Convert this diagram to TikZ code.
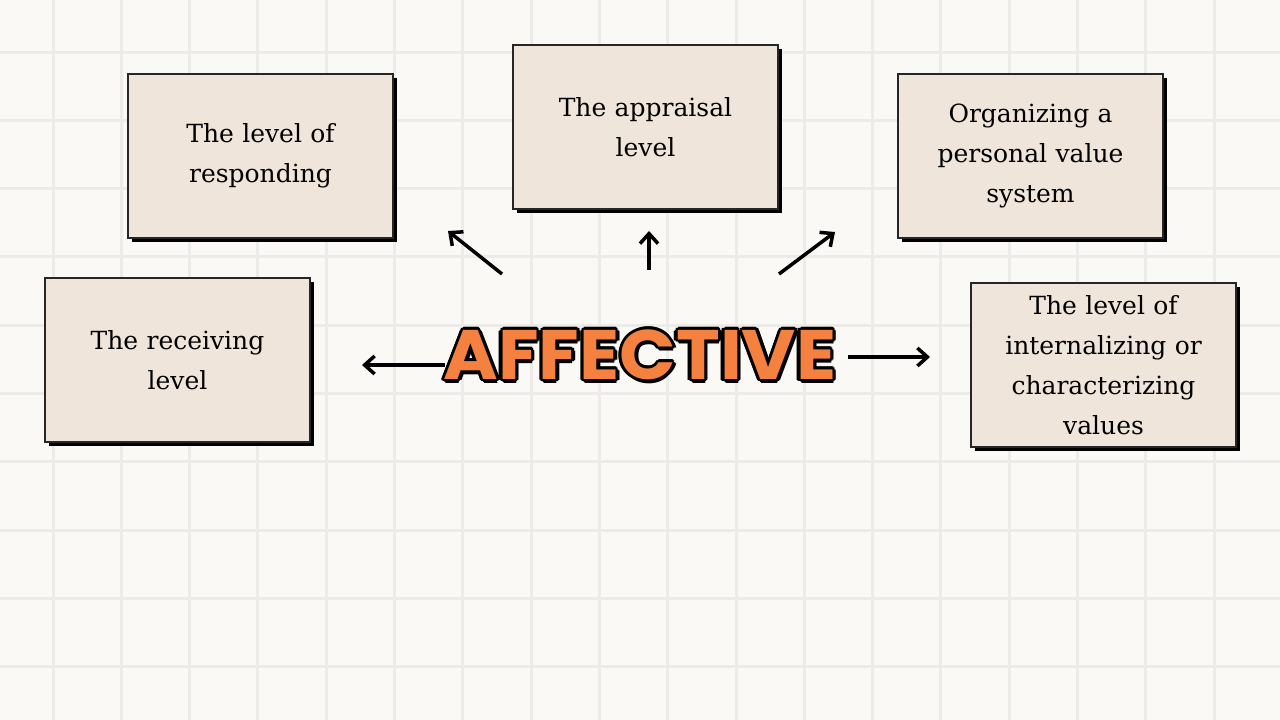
\documentclass[tikz,border=0pt]{standalone}
\usepackage{fontspec}
\setmainfont{DejaVu Serif}
\newfontfamily\heavy{Poppins}[BoldFont={* Bold}]
\usetikzlibrary{arrows.meta}
\definecolor{bg}{HTML}{FAF9F6}
\definecolor{gridc}{HTML}{ECEBE7}
\definecolor{boxc}{HTML}{EFE5DA}
\definecolor{orng}{HTML}{F4813F}
\tikzset{
 card/.style={draw=black!85,line width=2pt,fill=boxc,minimum width=265pt,minimum height=164pt,align=center,font=\fontsize{25}{40}\selectfont,text width=250pt},
 shade/.style={fill=black},
 arr/.style={line width=3.5pt,-{Straight Barb[length=10pt,width=18pt,line width=3.5pt]}},
 big/.style={font=\heavy\bfseries\fontsize{70}{70}\selectfont,xscale=1.06}
}
\newcommand{\cardat}[3]{%
 \fill[shade] (#1+5,#2+5) rectangle ++(265,164);
 \node[card,anchor=north west] (#3) at (#1,#2)}
\begin{document}
\begin{tikzpicture}[x=1pt,y=-1pt]
\useasboundingbox (0,0) rectangle (1280,720);
\fill[bg] (0,0) rectangle (1280,720);
\foreach \i in {0,...,18} {\draw[gridc,line width=3pt] (53+68.3*\i,0) -- (53+68.3*\i,720);}
\foreach \i in {-1,...,9} {\draw[gridc,line width=3pt] (0,52+68.3*\i) -- (1280,52+68.3*\i);}
\cardat{127}{73}{resp} {The level of\\responding};
\cardat{512}{44}{appr} {The appraisal\\level};
\cardat{897}{73}{org} {Organizing a\\personal value\\system};
\cardat{44}{277}{recv} {The receiving\\level};
\cardat{970}{282}{intl} {The level of\\internalizing or\\characterizing\\values};
\foreach \dx/\dy in {3/0,-3/0,0/3,0/-3,2.2/2.2,-2.2/2.2,2.2/-2.2,-2.2/-2.2,3.5/1,-3.5/1,1/3.5,1/-3.5} {
 \node[big,text=black] at (640+\dx,355+\dy) {AFFECTIVE};}
\node[big,text=orng] (aff) at (640,355) {AFFECTIVE};
\coordinate (a1) at (502,274); \coordinate (b1) at (448,231);
\coordinate (a2) at (649,270); \coordinate (b2) at (649,231);
\coordinate (a3) at (779,274); \coordinate (b3) at (835,232);
\coordinate (a4) at (445,365); \coordinate (b4) at (362,365);
\coordinate (a5) at (848,357); \coordinate (b5) at (930,357);
\foreach \k in {1,...,5} {\draw[arr] (a\k) -- (b\k);}
\end{tikzpicture}
\end{document}
